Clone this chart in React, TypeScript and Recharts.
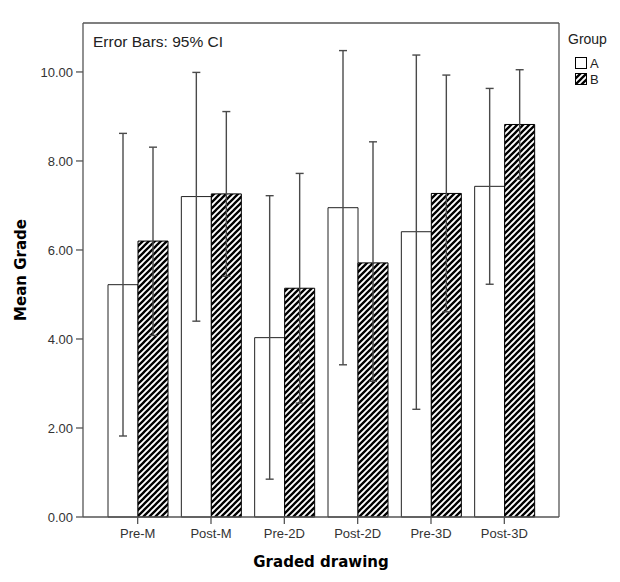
import { ComposedChart, Bar, Line, XAxis, YAxis, ErrorBar, Legend, Label } from 'recharts'

const drawings = ['Pre-M', 'Post-M', 'Pre-2D', 'Post-2D', 'Pre-3D', 'Post-3D']
const meanA = [5.22, 7.2, 4.03, 6.95, 6.41, 7.43]
const meanB = [6.2, 7.26, 5.14, 5.71, 7.27, 8.82]
const upperA = [8.62, 9.99, 7.22, 10.48, 10.38, 9.63]
const lowerA = [1.82, 4.4, 0.85, 3.42, 2.42, 5.23]
const upperB = [8.31, 9.11, 7.72, 8.43, 9.93, 10.05]
const lowerB = [4.08, 5.41, 2.56, 3.05, 4.61, 7.59]
const yTicks = [0, 2, 4, 6, 8, 10]

// ErrorBar wants offsets from the mean, so build [below, above] per row
const data = drawings.map((name, i) => ({
  name,
  A: meanA[i],
  B: meanB[i],
  errA: [meanA[i] - lowerA[i], upperA[i] - meanA[i]],
  errB: [meanB[i] - lowerB[i], upperB[i] - meanB[i]],
}))

const frame = '#555'
const sans = '"Liberation Sans", Arial, sans-serif'
const bold = '"DejaVu Sans", Verdana, sans-serif'

function Hatch({ id }: { id: string }) {
  return (
    <pattern id={id} width="6" height="6" patternUnits="userSpaceOnUse">
      <rect width="6" height="6" fill="#fff" />
      <path d="M-1.5,1.5 l3,-3 M0,6 l6,-6 M4.5,7.5 l3,-3" stroke="#000" strokeWidth="2.3" />
    </pattern>
  )
}

function GroupLegend() {
  return (
    <div style={{ fontFamily: sans, color: '#222' }}>
      <div style={{ fontSize: 14, lineHeight: '16px', marginBottom: 8 }}>Group</div>
      {['A', 'B'].map((g) => (
        <div key={g} style={{ display: 'flex', alignItems: 'center', height: 16, marginLeft: 7 }}>
          <svg width="12" height="12" style={{ display: 'block' }}>
            <defs>
              <Hatch id="hatchLegend" />
            </defs>
            <rect x="0.5" y="0.5" width="11" height="11" fill={g === 'A' ? '#fff' : 'url(#hatchLegend)'} stroke="#000" />
          </svg>
          <span style={{ fontSize: 13, marginLeft: 3 }}>{g}</span>
        </div>
      ))}
    </div>
  )
}

export default function App() {
  return (
    <div style={{ position: 'absolute', left: 0, top: 0, width: 620, height: 582, background: '#fff' }}>
      <ComposedChart
        width={620}
        height={582}
        data={data}
        margin={{ top: 22, right: 60, left: 0, bottom: 0 }}
        barGap={0}
        barSize={30}
      >
        <defs>
          <Hatch id="hatchBar" />
        </defs>
        <XAxis
          dataKey="name"
          height={65}
          padding={{ left: 18, right: 18 }}
          tickSize={7}
          tickMargin={5}
          stroke={frame}
          strokeWidth={1.3}
          tick={{ fill: '#333', fontSize: 13, fontFamily: sans }}
        >
          <Label
            value="Graded drawing"
            position="insideBottom"
            offset={15}
            style={{ fontFamily: bold, fontWeight: 'bold', fontSize: 15, fill: '#000' }}
          />
        </XAxis>
        <XAxis xAxisId="top" dataKey="name" orientation="top" height={1} tick={false} tickLine={false} stroke={frame} strokeWidth={1.3} />
        <YAxis
          width={83}
          domain={[0, 11.1]}
          ticks={yTicks}
          tickFormatter={(v: number) => v.toFixed(2)}
          tickSize={7}
          tickMargin={3}
          stroke={frame}
          strokeWidth={1.3}
          tick={{ fill: '#333', fontSize: 13, fontFamily: sans }}
        >
          <Label
            content={({ viewBox }: any) => {
              const cx = viewBox.x + 21
              const cy = viewBox.y + viewBox.height / 2
              return (
                <text
                  x={cx}
                  y={cy}
                  transform={`rotate(-90, ${cx}, ${cy})`}
                  textAnchor="middle"
                  dominantBaseline="central"
                  style={{ fontFamily: bold, fontWeight: 'bold', fontSize: 15, fill: '#000' }}
                >
                  Mean Grade
                </text>
              )
            }}
          />
        </YAxis>
        <YAxis yAxisId="right" orientation="right" width={1} domain={[0, 11.1]} tick={false} tickLine={false} stroke={frame} strokeWidth={1.3} />
        <Legend
          layout="horizontal"
          verticalAlign="middle"
          align="center"
          wrapperStyle={{ left: 568, top: 31, width: 50, height: 60 }}
          content={() => <GroupLegend />}
        />
        <Bar dataKey="A" fill="#fff" stroke="#222" strokeWidth={1} isAnimationActive={false}>
          <ErrorBar dataKey="errA" width={4} stroke="#4a4a4a" strokeWidth={1.4} />
        </Bar>
        <Bar dataKey="B" fill="url(#hatchBar)" stroke="#000" strokeWidth={1} isAnimationActive={false}>
          <ErrorBar dataKey="errB" width={4} stroke="#4a4a4a" strokeWidth={1.4} />
        </Bar>
        {/* invisible series so the top and right frame axes get drawn */}
        <Line
          xAxisId="top"
          yAxisId="right"
          dataKey="A"
          stroke="none"
          dot={false}
          activeDot={false}
          legendType="none"
          isAnimationActive={false}
        />
      </ComposedChart>
      <div
        style={{
          position: 'absolute',
          left: 93,
          top: 33,
          fontFamily: sans,
          fontSize: 15.5,
          lineHeight: '17px',
          color: '#222',
          whiteSpace: 'nowrap',
        }}
      >
        Error Bars: 95% CI
      </div>
    </div>
  )
}
